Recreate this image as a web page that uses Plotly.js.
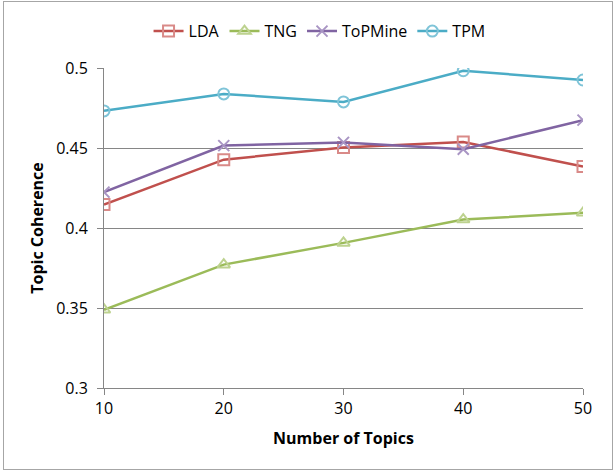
<!DOCTYPE html>
<html>
<head>
<meta charset="utf-8">
<script src="https://cdn.plot.ly/plotly-3.0.1.min.js"></script>
<style>
  body { margin: 0; background: #fff; }
  #chart { position: absolute; left: 0; top: 0; width: 616px; height: 475px; }
  #frame { position: absolute; left: 3px; top: 1px; width: 608px; height: 467px;
           border: 1px solid #a6a6a6; pointer-events: none; }
</style>
</head>
<body>
<div id="chart"></div>
<div id="frame"></div>
<script>
const topics = [10, 20, 30, 40, 50];
const lda = [0.4147, 0.4427, 0.4503, 0.4538, 0.4384];
const tng = [0.3489, 0.3771, 0.3907, 0.4053, 0.4095];
const topmine = [0.4224, 0.4515, 0.4535, 0.4492, 0.4674];
const tpm = [0.4732, 0.4838, 0.4788, 0.4983, 0.4925];

const yTicks = [0.3, 0.35, 0.4, 0.45, 0.5];
const yLabels = ['0.3', '0.35', '0.4', '0.45', '0.5'];

const FONT = "'Open Sans', 'Liberation Sans', sans-serif";

function series(name, y, color, markColor, symbol) {
    return {
        x: topics, y, name,
        type: 'scatter', mode: 'lines+markers',
        line: { color, width: 2.5 },
        marker: { symbol, size: 11, color: markColor, line: { color: markColor, width: 2 } }
    };
}

const traces = [
    series('LDA', lda, '#c0504d', '#d98a88', 'square-open'),
    series('TNG', tng, '#9bbb59', '#bdd28f', 'triangle-up-open'),
    series('ToPMine', topmine, '#8064a2', '#a995c4', 'x-thin-open'),
    series('TPM', tpm, '#4bacc6', '#7fc4d8', 'circle-open')
];

Plotly.newPlot('chart', traces, {
    width: 616, height: 475,
    paper_bgcolor: '#fff', plot_bgcolor: '#fff',
    font: { family: FONT, color: '#000', size: 16 },
    margin: { l: 104, r: 33, t: 68, b: 87 },
    showlegend: true,
    legend: {
        orientation: 'h', x: 0.45, xanchor: 'center', y: 1.115, yanchor: 'middle',
        font: { size: 16 }, itemwidth: 30, tracegroupgap: 0
    },
    xaxis: {
        range: [10, 50], tickvals: topics, ticks: 'outside', ticklen: 6, tickcolor: '#868686',
        showline: true, linecolor: '#868686', linewidth: 1,
        showgrid: false, zeroline: false,
        tickfont: { size: 16 },
        title: { text: '<b>Number of Topics</b>', font: { size: 16 }, standoff: 14 }
    },
    yaxis: {
        range: [0.3, 0.5], tickvals: yTicks, ticktext: yLabels,
        ticks: 'outside', ticklen: 6, tickcolor: '#868686', ticklabelstandoff: 6,
        showline: true, linecolor: '#868686', linewidth: 1,
        showgrid: true, gridcolor: '#868686', gridwidth: 1, zeroline: false,
        tickfont: { size: 16 },
        title: { text: '<b>Topic Coherence</b>', font: { size: 16 }, standoff: 8 }
    }
}, { displayModeBar: false });
</script>
</body>
</html>
